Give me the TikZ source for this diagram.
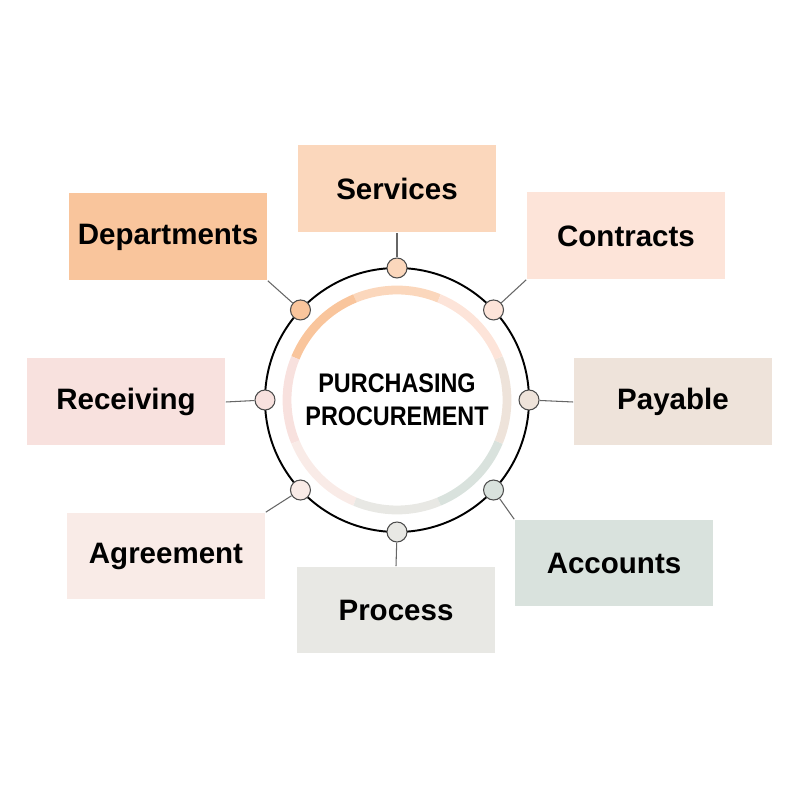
\documentclass[tikz,border=0pt]{standalone}
\usepackage{fontspec}
\setmainfont{Liberation Sans}
\usepackage{graphicx}

\definecolor{depcol}{HTML}{F9C59C}
\definecolor{sercol}{HTML}{FBD7BC}
\definecolor{concol}{HTML}{FDE4D9}
\definecolor{paycol}{HTML}{EEE3DA}
\definecolor{acccol}{HTML}{D9E2DD}
\definecolor{procol}{HTML}{E8E8E4}
\definecolor{agrcol}{HTML}{F9EBE7}
\definecolor{reccol}{HTML}{F8E1DE}

\tikzset{
	item node/.style = {
		rectangle,
		fill = #1,
		minimum width = 3.98cm,
		minimum height = 1.74cm,
		font = \fontsize{16.8}{20}\selectfont\bfseries
	},
	dot node/.style = {
		circle,
		draw = black!70,
		line width = 0.6pt,
		fill = #1,
		minimum size = 0.4cm,
		inner sep = 0pt
	},
	link line/.style = {
		draw = black!60,
		line width = 0.6pt
	},
	ring arc/.style = {
		draw = #1,
		line width = 5pt
	}
}

\begin{document}
\begin{tikzpicture}[x=0.02cm, y=0.02cm]
	\useasboundingbox (0,0) rectangle (800,800);
	\node at (397,400) [align=center, font=\fontsize{15.3}{18.7}\selectfont\bfseries] (ctr) {\scalebox{0.87}[1]{PURCHASING}\\\scalebox{0.87}[1]{PROCUREMENT}};
	\draw [ring arc=sercol] ([shift={(67.5:110)}]ctr.center) arc[start angle=67.5, end angle=112.5, radius=110];
	\draw [ring arc=depcol] ([shift={(112.5:110)}]ctr.center) arc[start angle=112.5, end angle=157.5, radius=110];
	\draw [ring arc=reccol] ([shift={(157.5:110)}]ctr.center) arc[start angle=157.5, end angle=202.5, radius=110];
	\draw [ring arc=agrcol] ([shift={(202.5:110)}]ctr.center) arc[start angle=202.5, end angle=247.5, radius=110];
	\draw [ring arc=procol] ([shift={(247.5:110)}]ctr.center) arc[start angle=247.5, end angle=292.5, radius=110];
	\draw [ring arc=acccol] ([shift={(292.5:110)}]ctr.center) arc[start angle=292.5, end angle=337.5, radius=110];
	\draw [ring arc=paycol] ([shift={(-22.5:110)}]ctr.center) arc[start angle=-22.5, end angle=22.5, radius=110];
	\draw [ring arc=concol] ([shift={(22.5:110)}]ctr.center) arc[start angle=22.5, end angle=67.5, radius=110];
	\draw [line width=1.1pt] (ctr.center) circle[radius=132];

	\node at (397,611) [item node=sercol] (ser) {Services};
	\node at (168,563) [item node=depcol] (dep) {Departments};
	\node at (626,564) [item node=concol] (con) {Contracts};
	\node at (673,398) [item node=paycol] (pay) {Payable};
	\node at (614,237) [item node=acccol] (acc) {Accounts};
	\node at (396,190) [item node=procol] (pro) {Process};
	\node at (166,244) [item node=agrcol] (agr) {Agreement};
	\node at (126,398) [item node=reccol] (rec) {Receiving};

	\node at ([shift={(90:132)}]ctr.center)   [dot node=sercol] (dser) {};
	\node at ([shift={(137:132)}]ctr.center)  [dot node=depcol] (ddep) {};
	\node at ([shift={(43:132)}]ctr.center)   [dot node=concol] (dcon) {};
	\node at ([shift={(0:132)}]ctr.center)    [dot node=paycol] (dpay) {};
	\node at ([shift={(-43:132)}]ctr.center)  [dot node=acccol] (dacc) {};
	\node at ([shift={(-90:132)}]ctr.center)  [dot node=procol] (dpro) {};
	\node at ([shift={(-137:132)}]ctr.center) [dot node=agrcol] (dagr) {};
	\node at ([shift={(180:132)}]ctr.center)  [dot node=reccol] (drec) {};

	\draw [link line] (dser) -- (ser.south);
	\draw [link line] (ddep) -- (dep.south east);
	\draw [link line] (dcon) -- (con.south west);
	\draw [link line] (dpay) -- (pay.west);
	\draw [link line] (dacc) -- (acc.north west);
	\draw [link line] (dpro) -- (pro.north);
	\draw [link line] (dagr) -- (agr.north east);
	\draw [link line] (drec) -- (rec.east);
\end{tikzpicture}
\end{document}
